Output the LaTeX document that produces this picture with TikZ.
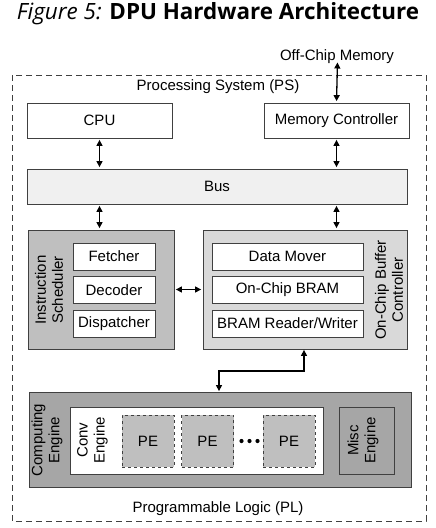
\documentclass[tikz,border=0pt]{standalone}
\usepackage{fontspec}
\setmainfont{Liberation Sans}
\newfontfamily\titlefont{Open Sans}
\usetikzlibrary{arrows.meta}
\definecolor{busfill}{HTML}{F0F0F0}
\definecolor{obcfill}{HTML}{D9D9D9}
\definecolor{isfill}{HTML}{BFBFBF}
\definecolor{cefill}{HTML}{A6A6A6}
\definecolor{pefill}{HTML}{BFBFBF}
\definecolor{edge}{HTML}{404040}
\tikzset{
  box/.style={draw=edge, line width=0.8pt, inner sep=0pt, font=\fontsize{15}{17}\selectfont},
  rlabel/.style={rotate=90, align=center, inner sep=0pt, font=\fontsize{15}{17}\selectfont},
  plain/.style={inner sep=0pt, font=\fontsize{15}{17}\selectfont},
  dbl/.style={{Triangle[length=6pt,width=6pt]}-{Triangle[length=6pt,width=6pt]}, line width=1.3pt, shorten <=1.5pt, shorten >=1.5pt},
  dot/.style={circle, fill=black, inner sep=0pt, minimum size=4.2pt},
}
\begin{document}
\begin{tikzpicture}[x=1pt,y=-1pt]
\useasboundingbox (0,0) rectangle (436,528);
\node[inner sep=0pt, font=\titlefont\fontsize{22.4}{26}\selectfont] (title) at (218,14) {\textit{Figure 5:} \textbf{DPU Hardware Architecture}};
\node[plain] (off) at (337,57) {Off-Chip Memory};
\draw[edge, line width=0.9pt, dash pattern=on 6pt off 4pt] (12,75) rectangle (426,521);
\node[plain] (ps) at (218,87) {Processing System (PS)};
\node[plain] (pl) at (218,509) {Programmable Logic (PL)};
\coordinate (offtop) at (337.5,61);

\node[box, minimum width=145, minimum height=35] (cpu) at (99.5,120.5) {CPU};
\node[box, minimum width=145, minimum height=35] (mc) at (336.5,120.5) {Memory Controller};
\node[box, fill=busfill, minimum width=380, minimum height=35] (bus) at (217,186.5) {Bus};

\node[box, fill=isfill, minimum width=146, minimum height=119] (is) at (101,289.5) {};
\node[rlabel] (islab) at (49,290) {Instruction\\Scheduler};
\node[box, fill=white, minimum width=82, minimum height=27] (fet) at (114,256.5) {Fetcher};
\node[box, fill=white, minimum width=82, minimum height=27] (dec) at (114,290) {Decoder};
\node[box, fill=white, minimum width=82, minimum height=27] (dis) at (114,323.5) {Dispatcher};

\node[box, fill=obcfill, minimum width=204, minimum height=119] (obc) at (305,289.5) {};
\node[rlabel] (obclab) at (389,290) {On-Chip Buffer\\Controller};
\node[box, fill=white, minimum width=151, minimum height=27] (dm) at (287.5,256.5) {Data Mover};
\node[box, fill=white, minimum width=151, minimum height=27] (bram) at (287.5,290) {On-Chip BRAM};
\node[box, fill=white, minimum width=151, minimum height=27] (brw) at (287.5,323.5) {BRAM Reader/Writer};

\node[box, fill=cefill, minimum width=382, minimum height=95] (ce) at (220,439.5) {};
\node[rlabel] (celab) at (47,440) {Computing\\Engine};
\node[box, fill=white, minimum width=253, minimum height=67] (conv) at (196.5,440.5) {};
\node[rlabel] (convlab) at (92.5,440) {Conv\\Engine};
\node[box, dashed, fill=pefill, minimum width=52, minimum height=52] (pe1) at (148,441) {PE};
\node[box, dashed, fill=pefill, minimum width=52, minimum height=52] (pe2) at (207.5,441) {PE};
\node[box, dashed, fill=pefill, minimum width=52, minimum height=52] (pe3) at (289,441) {PE};
\node[dot] (d1) at (241.5,441) {};
\node[dot] (d2) at (249.5,441) {};
\node[dot] (d3) at (257.5,441) {};
\node[box, fill=cefill, minimum width=55, minimum height=67] (misc) at (366.5,440.5) {};
\node[rlabel] (misclab) at (363,440.5) {Misc\\Engine};

\draw[dbl] (offtop) -- (mc.north);
\draw[dbl] (cpu.south) -- (cpu.south |- bus.north);
\draw[dbl] (mc.south) -- (mc.south |- bus.north);
\draw[dbl] (bus.south -| cpu.south) -- (is.north -| cpu.south);
\draw[dbl] (bus.south -| mc.south) -- (obc.north -| mc.south);
\draw[dbl] (is.east) -- (obc.west);
\draw[dbl, shorten <=0.5pt, shorten >=0.5pt] (obc.south -| 304,0) -- (304,371) -| (ce.north -| 219,0);
\end{tikzpicture}
\end{document}
